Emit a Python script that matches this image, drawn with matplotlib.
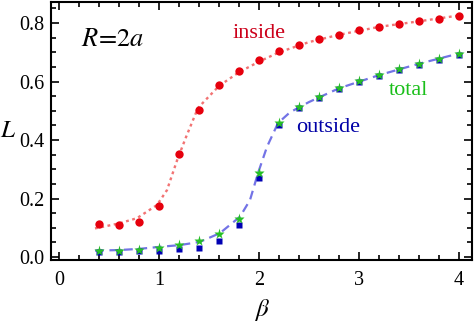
import matplotlib
matplotlib.use("Agg")
import matplotlib.pyplot as plt
from matplotlib.ticker import MultipleLocator

beta = [0.4, 0.6, 0.8, 1.0, 1.2, 1.4, 1.6, 1.8, 2.0, 2.2, 2.4, 2.6, 2.8, 3.0, 3.2, 3.4, 3.6, 3.8, 4.0]
inside = [0.112, 0.110, 0.120, 0.175, 0.352, 0.503, 0.588, 0.637, 0.673, 0.704, 0.726, 0.745, 0.760, 0.775, 0.787, 0.797, 0.806, 0.814, 0.825]
outside = [0.018, 0.018, 0.020, 0.020, 0.026, 0.032, 0.055, 0.109, 0.272, 0.452, 0.510, 0.545, 0.574, 0.599, 0.619, 0.640, 0.658, 0.674, 0.690]
total = [0.022, 0.022, 0.024, 0.032, 0.041, 0.055, 0.078, 0.130, 0.288, 0.457, 0.514, 0.548, 0.577, 0.602, 0.622, 0.643, 0.661, 0.677, 0.693]

fit_in_x = [0.36, 0.6, 0.78, 0.98, 1.08, 1.18, 1.27, 1.39, 1.6, 1.8, 2.0, 2.2, 2.5, 2.8, 3.2, 3.6, 4.0]
fit_in_y = [0.098, 0.115, 0.133, 0.178, 0.229, 0.330, 0.410, 0.510, 0.585, 0.632, 0.668, 0.700, 0.735, 0.760, 0.787, 0.806, 0.826]
fit_out_x = [0.36, 0.6, 0.8, 1.01, 1.21, 1.41, 1.61, 1.81, 1.91, 1.99, 2.08, 2.19, 2.31, 2.5, 2.8, 3.2, 3.6, 4.0]
fit_out_y = [0.022, 0.024, 0.028, 0.035, 0.041, 0.052, 0.082, 0.138, 0.195, 0.287, 0.377, 0.458, 0.495, 0.530, 0.577, 0.622, 0.661, 0.696]

plt.rcParams['font.family'] = ['Liberation Serif', 'DejaVu Serif']
plt.rcParams['mathtext.fontset'] = 'stix'

fig = plt.figure(figsize=(4.74, 3.23), dpi=100)
ax = fig.add_axes([51/474, 1-260/323, (472-51)/474, (260-2)/323])

red_line = (0.95, 0.45, 0.45)
blue_line = (0.45, 0.45, 0.9)
ax.plot(fit_in_x, fit_in_y, ls=(0, (1.2, 1.5)), color=red_line, lw=1.7, zorder=1)
ax.plot(fit_out_x, fit_out_y, ls=(0, (4, 2.5)), color=blue_line, lw=1.6, zorder=1)

ax.plot(beta, inside, 'o', color=(0.9, 0.0, 0.05), ms=6, mec='none', zorder=3)
ax.plot(beta, outside, 's', color=(0.0, 0.0, 0.7), ms=4.2, mec='none', zorder=3)
ax.plot(beta, total, '*', color=(0.15, 0.75, 0.15), ms=8, mec='none', zorder=4)

ax.set_xlim(-0.08, 4.13)
ax.set_ylim(-0.01, 0.872)
ax.xaxis.set_major_locator(MultipleLocator(1))
ax.xaxis.set_minor_locator(MultipleLocator(0.2))
ax.yaxis.set_major_locator(MultipleLocator(0.2))
ax.yaxis.set_minor_locator(MultipleLocator(0.05))
ax.yaxis.set_major_formatter(matplotlib.ticker.FormatStrFormatter('%.1f'))
ax.tick_params(which='both', direction='in', top=True, right=True, width=1.2, labelsize=14.5)
ax.tick_params(which='major', length=6)
ax.tick_params(which='minor', length=3.5)
ax.tick_params(axis='x', which='major', pad=8)
ax.tick_params(axis='y', which='major', pad=5)
for s in ax.spines.values():
    s.set_linewidth(1.5)

ax.set_xlabel(r'$\beta$', fontsize=18, labelpad=5)
ax.set_ylabel(r'$L$', fontsize=18, rotation=0, labelpad=8, va='center')

ax.text(0.54, 0.742, r'$R\!=\!2a$', fontsize=19, ha='center', va='center')
ax.text(2.0, 0.766, 'inside', color=(0.8, 0.0, 0.1), fontsize=16, ha='center', va='center')
ax.text(2.69, 0.444, 'outside', color=(0.0, 0.0, 0.65), fontsize=16, ha='center', va='center')
ax.text(3.5, 0.571, 'total', color=(0.1, 0.75, 0.1), fontsize=16, ha='center', va='center')

fig.savefig('out.png', dpi=100)
